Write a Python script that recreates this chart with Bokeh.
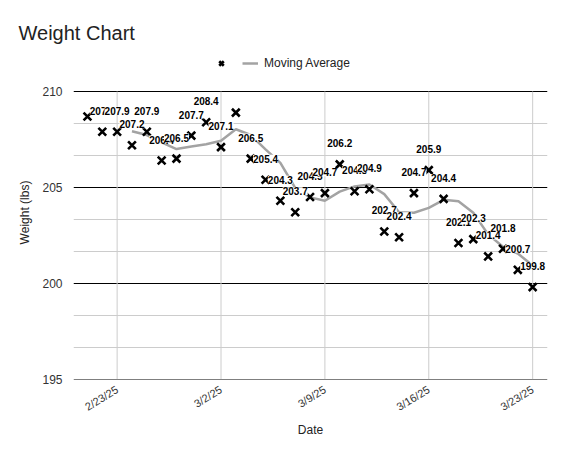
import pandas as pd
from bokeh.plotting import figure
from bokeh.models import ColumnDataSource, FixedTicker, Legend, LegendItem
from bokeh.core.properties import value
from bokeh.embed import file_html
from bokeh.resources import INLINE


####### data ---
dates = ["2/21/25", "2/22/25", "2/23/25", "2/24/25", "2/25/25", "2/26/25", "2/27/25",
         "2/28/25", "3/1/25", "3/2/25", "3/3/25", "3/4/25", "3/5/25", "3/6/25",
         "3/7/25", "3/8/25", "3/9/25", "3/10/25", "3/11/25", "3/12/25", "3/13/25",
         "3/14/25", "3/15/25", "3/16/25", "3/17/25", "3/18/25", "3/19/25", "3/20/25",
         "3/21/25", "3/22/25", "3/23/25"]
weights = [208.7, 207.9, 207.9, 207.2, 207.9, 206.4, 206.5, 207.7, 208.4, 207.1, 208.9,
           206.5, 205.4, 204.3, 203.7, 204.5, 204.7, 206.2, 204.8, 204.9, 202.7,
           202.4, 204.7, 205.9, 204.4, 202.1, 202.3, 201.4, 201.8, 200.7, 199.8]
# labels that the chart does not show
hidden_labels = ["2/21/25", "3/3/25"]

# moving average (starts on the 4th day)
ma_dates = dates[3:]
moving_avg = [207.93, 207.73, 207.35, 207.0, 207.13, 207.25, 207.43, 208.03, 207.73,
              206.98, 206.28, 204.98, 204.48, 204.3, 204.78, 205.05, 205.15, 204.65,
              203.7, 203.68, 203.93, 204.35, 204.28, 203.68, 202.55, 201.9, 201.55, 200.93]

tick_dates = ["2/23/25", "3/2/25", "3/9/25", "3/16/25", "3/23/25"]
y_ticks = [195, 200, 205, 210]
y_minor = [196.67, 198.33, 201.67, 203.33, 206.67, 208.33]

FONT = "Liberation Sans"

####### preparation ---
d = pd.to_datetime(dates, format="%m/%d/%y")
start = d[0]
df = pd.DataFrame({"date": dates, "x": (d - start).days.astype(float), "y": weights})
df["label"] = df["y"].map(lambda v: f"{v:.1f}")
df_lab = df[~df["date"].isin(hidden_labels)]

df_ma = pd.DataFrame({"x": (pd.to_datetime(ma_dates, format="%m/%d/%y") - start).days.astype(float),
                      "y": moving_avg})

tick_x = [int(t) for t in (pd.to_datetime(tick_dates, format="%m/%d/%y") - start).days]

src = ColumnDataSource(df)
src_lab = ColumnDataSource(df_lab)
src_ma = ColumnDataSource(df_ma)

####### figure ---
# y range goes a bit above 210 so the legend can sit inside the frame
p = figure(width=560, height=452, x_range=(-0.94, 31.0), y_range=(194.98, 212.40),
           output_backend="svg", toolbar_location=None, title="Weight Chart",
           min_border_left=73, min_border_right=13, min_border_top=45, min_border_bottom=73)
p.outline_line_color = None

p.title.text_font = FONT
p.title.text_font_size = "20px"
p.title.text_font_style = "normal"
p.title.text_color = "#222222"
p.title.align = "left"
p.title.offset = -55
p.title.standoff = 4

# vertical grid lines only between 195 and 210
p.segment(x0=tick_x, y0=[y_ticks[0]] * len(tick_x), x1=tick_x, y1=[y_ticks[-1]] * len(tick_x),
          line_color="#cccccc", line_width=1)

r_ma = p.line("x", "y", source=src_ma, line_color="#a3a3a3", line_width=2.5)
r_pts = p.scatter("x", "y", source=src, marker="x", size=11, line_width=2.6, color="black")
p.text(x="x", y="y", text="label", source=src_lab, text_font=value(FONT),
       text_font_style="bold", text_font_size="10px", text_color="black",
       text_align="center", text_baseline="middle", y_offset=-21,
       background_fill_color="white")

# axes
p.xaxis.ticker = FixedTicker(ticks=tick_x)
p.xaxis.major_label_overrides = {t: s for t, s in zip(tick_x, tick_dates)}
p.xaxis.major_label_orientation = 0.55
p.yaxis.ticker = FixedTicker(ticks=y_ticks)
for ax in (p.xaxis, p.yaxis):
    ax.axis_line_color = None
    ax.major_tick_line_color = None
    ax.minor_tick_line_color = None
    ax.major_label_text_font = FONT
    ax.major_label_text_color = "#333333"
    ax.axis_label_text_font = FONT
    ax.axis_label_text_font_style = "normal"
    ax.axis_label_text_font_size = "12px"
    ax.axis_label_text_color = "#222222"
p.xaxis.major_label_text_font_size = "11px"
p.yaxis.major_label_text_font_size = "12px"
p.xaxis.major_label_standoff = 3
p.yaxis.major_label_standoff = 5
p.xaxis.axis_label = "Date"
p.yaxis.axis_label = "Weight (lbs)"
p.xaxis.axis_label_standoff = 2
p.yaxis.axis_label_standoff = 7

# grids
p.xgrid.grid_line_color = None
p.ygrid.ticker = FixedTicker(ticks=y_ticks, minor_ticks=y_minor)
p.ygrid.grid_line_color = "black"
p.ygrid.minor_grid_line_color = "#cccccc"

# legend, top centre
legend = Legend(items=[LegendItem(label=" ", renderers=[r_pts]),
                       LegendItem(label="Moving Average", renderers=[r_ma])],
                orientation="horizontal", location=(140, 308),
                glyph_width=16, glyph_height=16, label_standoff=6, spacing=7,
                label_width=0, padding=4, margin=0,
                border_line_color=None, background_fill_alpha=0,
                label_text_font=FONT, label_text_font_size="12px",
                label_text_color="#222222")
p.add_layout(legend)

open("out.html", "w").write(file_html(p, INLINE))
